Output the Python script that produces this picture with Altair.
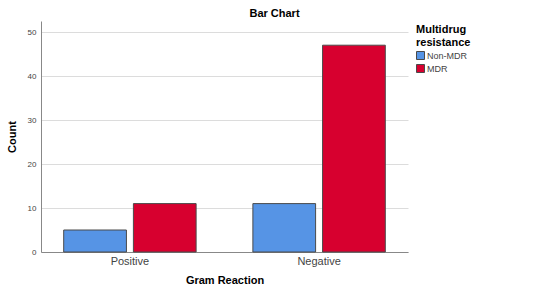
import altair as alt
import pandas as pd

# Counts by Gram reaction and multidrug resistance status
gram = ["Positive", "Positive", "Negative", "Negative"]
resistance = ["Non-MDR", "MDR", "Non-MDR", "MDR"]
counts = [5, 11, 11, 47]

gram_order = ["Positive", "Negative"]
res_order = ["Non-MDR", "MDR"]
res_colors = ["#5694E5", "#D7002F"]
y_ticks = [0, 10, 20, 30, 40, 50]

df = pd.DataFrame({"gram": gram, "resistance": resistance, "count": counts})

FONT = "Liberation Sans"

chart = (
    alt.Chart(df)
    .mark_bar(stroke="#4a4a4a", strokeWidth=1)
    .encode(
        x=alt.X(
            "gram:N",
            sort=gram_order,
            title="Gram Reaction",
            scale=alt.Scale(paddingInner=0.3, paddingOuter=0.12),
            axis=alt.Axis(
                labelAngle=0,
                ticks=False,
                labelFontSize=11,
                labelColor="#444444",
                labelPadding=3,
                titleFontSize=11,
                titleFontWeight="bold",
                titleColor="#000000",
                titlePadding=8,
                domainColor="#888888",
            ),
        ),
        xOffset=alt.XOffset(
            "resistance:N",
            sort=res_order,
            scale=alt.Scale(paddingInner=0.1, paddingOuter=0),
        ),
        y=alt.Y(
            "count:Q",
            title="Count",
            scale=alt.Scale(domain=[0, 52.5], nice=False),
            axis=alt.Axis(
                values=y_ticks,
                ticks=False,
                labelFontSize=8,
                labelColor="#444444",
                labelPadding=5,
                titleFontSize=11,
                titleFontWeight="bold",
                titleColor="#000000",
                titlePadding=10,
                grid=True,
                gridColor="#dcdcdc",
                domainColor="#888888",
            ),
        ),
        color=alt.Color(
            "resistance:N",
            sort=res_order,
            scale=alt.Scale(domain=res_order, range=res_colors),
            legend=alt.Legend(
                title=["Multidrug", "resistance"],
                orient="none",
                legendX=375,
                legendY=3,
                titleFontSize=11,
                titleFontWeight="bold",
                titleColor="#000000",
                titlePadding=3,
                labelFontSize=9,
                labelColor="#444444",
                symbolType="square",
                symbolSize=64,
                symbolStrokeColor="#4a4a4a",
                symbolStrokeWidth=1,
                rowPadding=0,
                labelOffset=2,
            ),
        ),
    )
    .properties(
        width=367,
        height=231,
        title=alt.TitleParams(
            "Bar Chart",
            fontSize=11,
            fontWeight="bold",
            color="#000000",
            anchor="middle",
            dx=50,
            offset=2,
        ),
        autosize=alt.AutoSizeParams(type="none"),
        padding={"left": 41, "top": 21, "right": 140, "bottom": 42},
    )
    .configure(font=FONT)
    .configure_view(stroke=None)
)

chart.save("out.html", embed_options={"renderer": "svg", "actions": False})
